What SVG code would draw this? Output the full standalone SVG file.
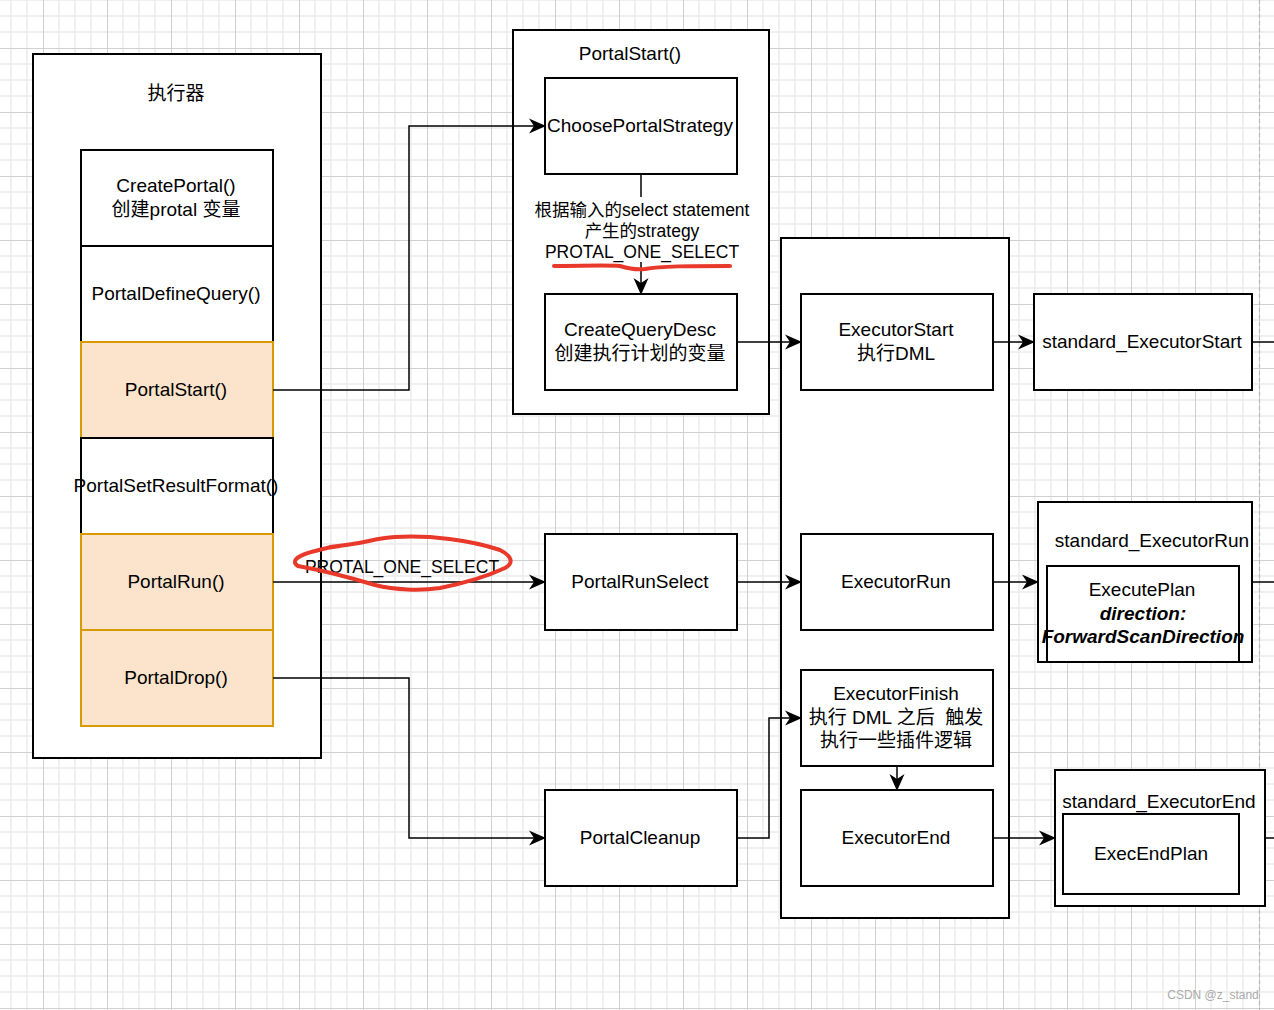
<svg xmlns="http://www.w3.org/2000/svg" width="1274" height="1010" viewBox="0 0 1274 1010">
<defs>
<pattern id="grid" x="43" y="48" width="64" height="64" patternUnits="userSpaceOnUse">
<path d="M16,0 V64 M32,0 V64 M48,0 V64 M0,16 H64 M0,32 H64 M0,48 H64" stroke="#ececec" stroke-width="1.5" fill="none"/>
<path d="M0.5,0 V64 M0,0.5 H64" stroke="#d0d0d0" stroke-width="1" fill="none"/>
</pattern>
<marker id="arr" markerUnits="userSpaceOnUse" markerWidth="17" markerHeight="16" refX="16" refY="8" orient="auto">
<path d="M0,0.5 L17,8 L0,15.5 L5,8 Z" fill="#000"/>
</marker>
<style>
.box{fill:#fff;stroke:#000;stroke-width:2}
.org{fill:#fbe4cb;stroke:#d79b00;stroke-width:2}
.t{font-family:"Liberation Sans",Arial,"Noto Sans CJK SC",sans-serif;font-size:19px;fill:#000;text-anchor:middle}
.lbl{font-family:"Liberation Sans",Arial,"Noto Sans CJK SC",sans-serif;font-size:17.5px;fill:#000;text-anchor:middle}
.bi{font-weight:bold;font-style:italic}
.e{fill:none;stroke:#000;stroke-width:1.5}
.ea{fill:none;stroke:#000;stroke-width:1.5;marker-end:url(#arr)}
.red{fill:none;stroke:#e8392a;stroke-width:4;stroke-linecap:round;stroke-linejoin:round}
</style>
</defs>
<rect width="1274" height="1010" fill="#fff"/>
<rect width="1274" height="1010" fill="url(#grid)"/>
<line x1="1259.5" y1="0" x2="1259.5" y2="1010" stroke="#b8b8b8" stroke-width="1.2" stroke-dasharray="4,3"/>

<g id="executor">
<rect class="box" x="33" y="54" width="288" height="704"/>
<text class="t" x="176" y="100">执行器</text>
</g>
<g id="createPortal">
<rect class="box" x="81" y="150" width="192" height="96"/>
<text class="t" x="176" y="192">CreatePortal()</text>
<text class="t" x="176" y="216">创建protal 变量</text>
</g>
<g id="portalDefineQuery">
<rect class="box" x="81" y="246" width="192" height="96"/>
<text class="t" x="176" y="300">PortalDefineQuery()</text>
</g>
<g id="portalStartItem">
<rect class="org" x="81" y="342" width="192" height="96"/>
<text class="t" x="176" y="396">PortalStart()</text>
</g>
<g id="portalSetResultFormat">
<rect class="box" x="81" y="438" width="192" height="96"/>
<text class="t" x="176" y="492">PortalSetResultFormat()</text>
</g>
<g id="portalRun">
<rect class="org" x="81" y="534" width="192" height="96"/>
<text class="t" x="176" y="588">PortalRun()</text>
</g>
<g id="portalDrop">
<rect class="org" x="81" y="630" width="192" height="96"/>
<text class="t" x="176" y="684">PortalDrop()</text>
</g>

<g id="portalStartGroup">
<rect class="box" x="513" y="30" width="256" height="384"/>
<text class="t" x="630" y="60">PortalStart()</text>
</g>
<g id="choosePortalStrategy">
<rect class="box" x="545" y="78" width="192" height="96"/>
<text class="t" x="640" y="132">ChoosePortalStrategy</text>
</g>
<g id="createQueryDesc">
<rect class="box" x="545" y="294" width="192" height="96"/>
<text class="t" x="640" y="336">CreateQueryDesc</text>
<text class="t" x="640" y="360">创建执行计划的变量</text>
</g>
<g id="portalRunSelect">
<rect class="box" x="545" y="534" width="192" height="96"/>
<text class="t" x="640" y="588">PortalRunSelect</text>
</g>
<g id="portalCleanup">
<rect class="box" x="545" y="790" width="192" height="96"/>
<text class="t" x="640" y="844">PortalCleanup</text>
</g>

<g id="executorGroup">
<rect class="box" x="781" y="238" width="228" height="680"/>
</g>
<g id="executorStart">
<rect class="box" x="801" y="294" width="192" height="96"/>
<text class="t" x="896" y="336">ExecutorStart</text>
<text class="t" x="896" y="360">执行DML</text>
</g>
<g id="executorRun">
<rect class="box" x="801" y="534" width="192" height="96"/>
<text class="t" x="896" y="588">ExecutorRun</text>
</g>
<g id="executorFinish">
<rect class="box" x="801" y="670" width="192" height="96"/>
<text class="t" x="896" y="700">ExecutorFinish</text>
<text class="t" x="896" y="724" xml:space="preserve">执行 DML 之后  触发</text>
<text class="t" x="896" y="747">执行一些插件逻辑</text>
</g>
<g id="executorEnd">
<rect class="box" x="801" y="790" width="192" height="96"/>
<text class="t" x="896" y="844">ExecutorEnd</text>
</g>

<g id="standardExecutorStart">
<rect class="box" x="1034" y="294" width="218" height="96"/>
<text class="t" x="1142" y="348">standard_ExecutorStart</text>
</g>
<g id="standardExecutorRun">
<rect class="box" x="1038" y="502" width="214" height="160"/>
<text class="t" x="1152" y="547">standard_ExecutorRun</text>
</g>
<g id="executePlan">
<rect class="box" x="1047" y="566" width="192" height="96"/>
<text class="t" x="1142" y="596">ExecutePlan</text>
<text class="t bi" x="1143" y="620">direction:</text>
<text class="t bi" x="1143" y="643">ForwardScanDirection</text>
</g>
<g id="standardExecutorEnd">
<rect class="box" x="1055" y="770" width="210" height="136"/>
<text class="t" x="1159" y="808">standard_ExecutorEnd</text>
</g>
<g id="execEndPlan">
<rect class="box" x="1063" y="814" width="176" height="80"/>
<text class="t" x="1151" y="860">ExecEndPlan</text>
</g>

<g id="connectors">
<path class="ea" d="M273,390 H409 V126 H545"/>
<path class="e" d="M641,174 V197"/>
<path class="ea" d="M641,262 V294"/>
<text class="lbl" x="642" y="216">根据输入的select statement</text>
<text class="lbl" x="642" y="237">产生的strategy</text>
<text class="lbl" x="642" y="258">PROTAL_ONE_SELECT</text>
<path class="ea" d="M737,342 H801"/>
<path class="ea" d="M993,342 H1034"/>
<path class="e" d="M1252,342 H1274"/>
<path class="ea" d="M273,582 H545"/>
<text class="lbl" x="402" y="573">PROTAL_ONE_SELECT</text>
<path class="ea" d="M737,582 H801"/>
<path class="ea" d="M993,582 H1038"/>
<path class="e" d="M1252,582 H1274"/>
<path class="ea" d="M273,678 H409 V838 H545"/>
<path class="ea" d="M737,838 H769 V718 H801"/>
<path class="ea" d="M897,766 V790"/>
<path class="ea" d="M993,838 H1055"/>
<path class="e" d="M1265,838 H1274"/>
</g>

<path class="red" d="M554,266 C580,266 605,265 620,266 C630,269 637,270 645,269 C660,266 690,266 730,266"/>
<path class="red" d="M330,547 L346,545 C370,542 375,538 395,537 C430,535 470,540 500,550 C512,556 514,563 505,568 C490,575 470,582 440,588 C420,591 395,590 375,585 C345,576 320,570 298,566 C290,561 298,555 315,551 C322,549 330,547 340,546"/>

<text x="1213" y="999" font-family="'Liberation Sans',Arial,sans-serif" font-size="12" fill="#aaaaaa" text-anchor="middle">CSDN @z_stand</text>
</svg>
